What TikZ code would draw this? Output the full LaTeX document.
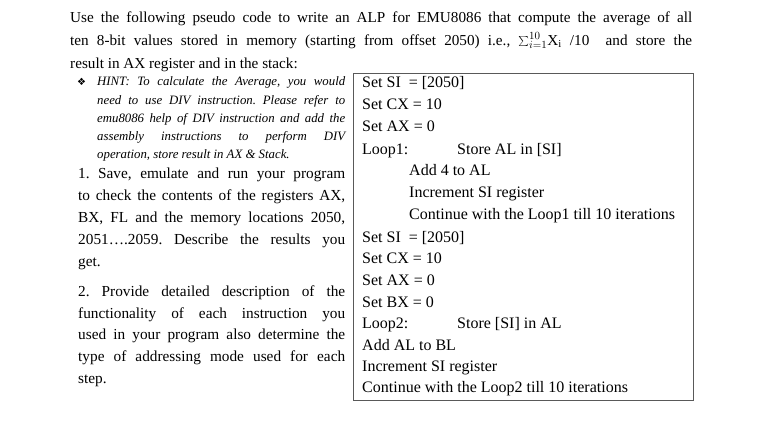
\documentclass[tikz,border=0pt]{standalone}
\usepackage{fontspec}
\setmainfont{Liberation Serif}
\newfontfamily\djv{DejaVu Sans}
\frenchspacing
\begin{document}
\begin{tikzpicture}[x=1pt,y=-1pt,
  hd/.style={anchor=base west,inner sep=0,font=\fontsize{15.2}{18}\selectfont},
  ht/.style={anchor=base west,inner sep=0,font=\fontsize{12.8}{14}\selectfont\itshape},
  lt/.style={anchor=base west,inner sep=0,font=\fontsize{15.3}{17}\selectfont},
  bx/.style={anchor=base west,inner sep=0,font=\fontsize{16}{17}\selectfont}]
\useasboundingbox (0,0) rectangle (773,426);
\node[hd] (h1) at (70,22) {\makebox[622pt][s]{Use the following pseudo code to write an ALP for EMU8086 that compute the average of all}};
\node[hd] (h2) at (70,45) {\makebox[622pt][s]{ten 8-bit values stored in memory (starting from offset 2050) i.e., \(\sum\nolimits_{i=1}^{10}\)X\(_{\mathrm{i}}\) /10 \ and store the}};
\node[hd] (h3) at (70,68) {result in AX register and in the stack:};
\node[anchor=base west,inner sep=0,font=\djv\fontsize{10}{12}\selectfont] (bul) at (77,85) {❖};
\node[ht] (t1) at (97,85) {\makebox[248pt][s]{HINT: To calculate the Average, you would}};
\node[ht] (t2) at (97,104) {\makebox[248pt][s]{need to use DIV instruction. Please refer to}};
\node[ht] (t3) at (97,122) {\makebox[248pt][s]{emu8086 help of DIV instruction and add the}};
\node[ht] (t4) at (97,140) {\makebox[248pt][s]{assembly instructions to perform DIV}};
\node[ht] (t5) at (97,158) {operation, store result in AX \& Stack.};
\node[lt] (a1) at (78,178) {\makebox[267pt][s]{1. Save, emulate and run your program}};
\node[lt] (a2) at (78,200) {\makebox[267pt][s]{to check the contents of the registers AX,}};
\node[lt] (a3) at (78,222) {\makebox[267pt][s]{BX, FL and the memory locations 2050,}};
\node[lt] (a4) at (78,244) {\makebox[267pt][s]{2051….2059. Describe the results you}};
\node[lt] (a5) at (78,266) {get.};
\node[lt] (b1) at (78,296) {\makebox[267pt][s]{2. Provide detailed description of the}};
\node[lt] (b2) at (78,318) {\makebox[267pt][s]{functionality of each instruction you}};
\node[lt] (b3) at (78,339) {\makebox[267pt][s]{used in your program also determine the}};
\node[lt] (b4) at (78,361) {\makebox[267pt][s]{type of addressing mode used for each}};
\node[lt] (b5) at (78,383) {step.};
\draw[gray!70!black,line width=0.8pt] (353,73) rectangle (693,400);
\node[bx] (c1) at (362,87) {Set SI \ = [2050]};
\node[bx] (c2) at (362,109) {Set CX = 10};
\node[bx] (c3) at (362,131) {Set AX = 0};
\node[bx] (c4) at (362,154) {Loop1:};
\node[bx] (c4b) at (457,154) {Store AL in [SI]};
\node[bx] (c5) at (409,175) {Add 4 to AL};
\node[bx] (c6) at (409,197) {Increment SI register};
\node[bx] (c7) at (409,219) {Continue with the Loop1 till 10 iterations};
\node[bx] (c8) at (362,242) {Set SI \ = [2050]};
\node[bx] (c9) at (362,263) {Set CX = 10};
\node[bx] (c10) at (362,285) {Set AX = 0};
\node[bx] (c11) at (362,307) {Set BX = 0};
\node[bx] (c12) at (362,328) {Loop2:};
\node[bx] (c12b) at (457,328) {Store [SI] in AL};
\node[bx] (c13) at (362,350) {Add AL to BL};
\node[bx] (c14) at (362,371) {Increment SI register};
\node[bx] (c15) at (362,392) {Continue with the Loop2 till 10 iterations};
\end{tikzpicture}
\end{document}
